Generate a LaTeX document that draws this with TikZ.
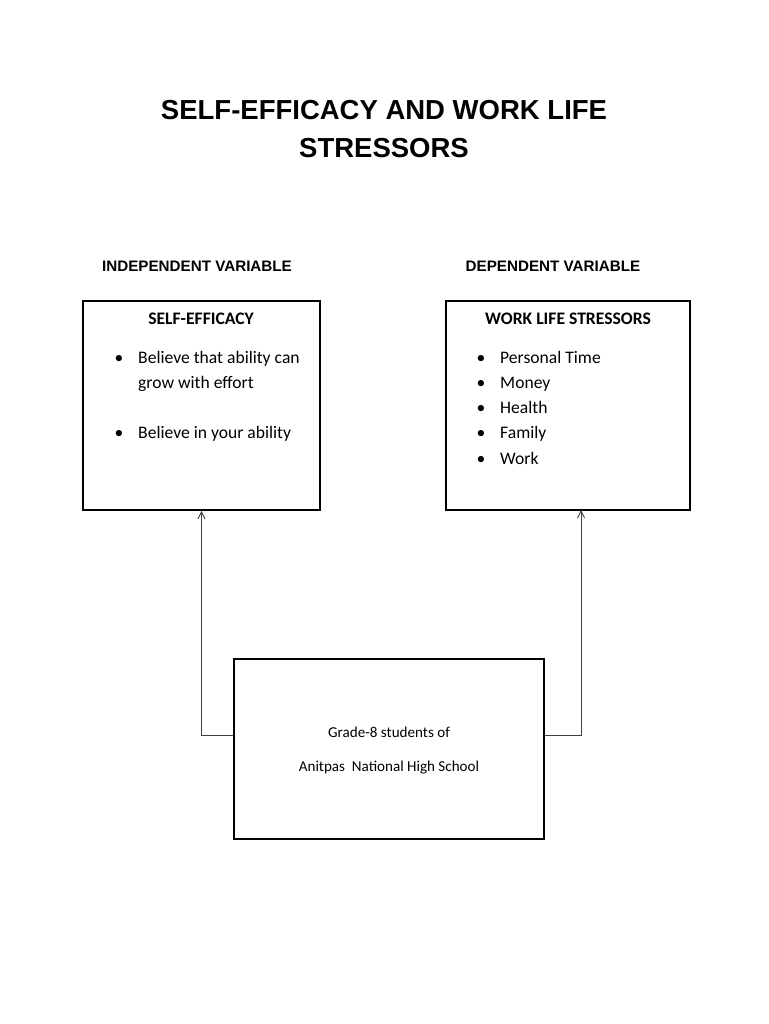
\documentclass[tikz,border=0pt]{standalone}
\usepackage{fontspec}
\setmainfont{Carlito}
\newfontfamily\arialfont{Liberation Sans}
\usetikzlibrary{arrows.meta}
\begin{document}
\begin{tikzpicture}[x=1pt,y=-1pt,
  box/.style={draw,line width=1.8pt},
  conn/.style={draw=black!75,line width=0.9pt},
  head/.style={font=\arialfont\bfseries\fontsize{15.2}{18}\selectfont,inner sep=0pt},
  boxtitle/.style={font=\bfseries\fontsize{17.6}{21}\selectfont,inner sep=0pt},
  item/.style={font=\fontsize{17.6}{21}\selectfont,anchor=base west,inner sep=0pt},
  bul/.style={font=\fontsize{17.6}{21}\selectfont,anchor=base,inner sep=0pt},
  small/.style={font=\fontsize{15.1}{18}\selectfont,inner sep=0pt}]
\useasboundingbox (0,0) rectangle (768,1024);
\fill[white] (0,0) rectangle (768,1024);
% title
\node[font=\arialfont\bfseries\fontsize{27.5}{32}\selectfont,inner sep=0pt] (t1) at (384,110) {SELF-EFFICACY AND WORK LIFE};
\node[font=\arialfont\bfseries\fontsize{27.5}{32}\selectfont,inner sep=0pt] (t2) at (384,148) {STRESSORS};
\node[head] (iv) at (197,266) {INDEPENDENT VARIABLE};
\node[head] (dv) at (553,266) {DEPENDENT VARIABLE};
% boxes
\node[box,minimum width=237pt,minimum height=209pt,inner sep=0pt] (se) at (201.5,405.5) {};
\node[box,minimum width=244pt,minimum height=209pt,inner sep=0pt] (wl) at (568,405.5) {};
\node[box,minimum width=310pt,minimum height=180pt,inner sep=0pt] (gs) at (389,749) {};
% left box text
\node[boxtitle] (seT) at (201,319) {SELF-EFFICACY};
\node[bul] (b1) at (119,363) {•};
\node[item] (i1) at (138,363) {Believe that ability can};
\node[item] (i1b) at (138,388) {grow with effort};
\node[bul] (b2) at (119,438) {•};
\node[item] (i2) at (138,438) {Believe in your ability};
% right box text
\node[boxtitle] (wlT) at (568,319) {WORK LIFE STRESSORS};
\node[bul] (c1) at (481,363) {•};
\node[item] (j1) at (500,363) {Personal Time};
\node[bul] (c2) at (481,388) {•};
\node[item] (j2) at (500,388) {Money};
\node[bul] (c3) at (481,413) {•};
\node[item] (j3) at (500,413) {Health};
\node[bul] (c4) at (481,438) {•};
\node[item] (j4) at (500,438) {Family};
\node[bul] (c5) at (481,464) {•};
\node[item] (j5) at (500,464) {Work};
% bottom text
\node[small] (g1) at (389,732) {Grade-8 students of};
\node[small] (g2) at (389,768) {Anitpas\ \ National High School};
% connectors
\coordinate (rt) at (581,510);
\draw[conn,-{Straight Barb[length=7pt,width=7pt]}] (gs.west |- 0,735) -| (se.south);
\draw[conn,-{Straight Barb[length=7pt,width=7pt]}] (gs.east |- 0,735) -| (rt);
\end{tikzpicture}
\end{document}
